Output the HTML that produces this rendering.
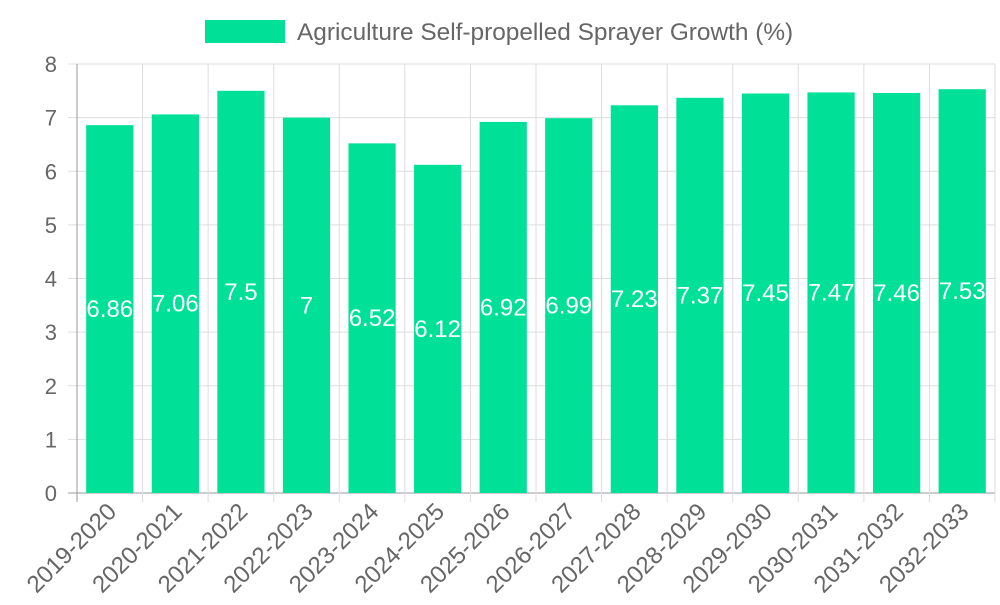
<!DOCTYPE html>
<html><head><meta charset="utf-8"><style>
body{margin:0;background:#fff;}
text{font-family:"Liberation Sans",sans-serif;}
</style></head><body>
<svg id="chart" width="1000" height="600" xmlns="http://www.w3.org/2000/svg">
<g>
<rect x="205" y="20" width="80" height="23" fill="#00e096"/>
<text x="297" y="40" font-size="24.4" fill="#666">Agriculture Self-propelled Sprayer Growth (%)</text>
</g>
<g id="grid"></g>
<g id="bars"></g>
<g id="labels"></g>
</svg>
<script>
const categories=["2019-2020","2020-2021","2021-2022","2022-2023","2023-2024","2024-2025","2025-2026","2026-2027","2027-2028","2028-2029","2029-2030","2030-2031","2031-2032","2032-2033"];
const values=[6.86,7.06,7.5,7,6.52,6.12,6.92,6.99,7.23,7.37,7.45,7.47,7.46,7.53];
const valueLabels=["6.86","7.06","7.5","7","6.52","6.12","6.92","6.99","7.23","7.37","7.45","7.47","7.46","7.53"];
const yTicks=[0,1,2,3,4,5,6,7,8];
const L=77,R=995,T=64,B=493,yMax=8;
const slot=(R-L)/categories.length;
const y=v=>B-(v/yMax)*(B-T);
const x=i=>L+i*slot;
const NS="http://www.w3.org/2000/svg";
function mk(tag,attrs,parent){const e=document.createElementNS(NS,tag);for(const k in attrs)e.setAttribute(k,attrs[k]);parent.appendChild(e);return e;}
const grid=document.getElementById('grid'),bars=document.getElementById('bars'),labels=document.getElementById('labels');
yTicks.forEach(t=>{
 const ln=mk('line',{x1:L-9,x2:R,y1:y(t),y2:y(t),stroke:t===0?'#999':'#ddd','stroke-width':1},grid);
 
 
 const tx=mk('text',{x:L-20,y:y(t)+8,'font-size':22,fill:'#666','text-anchor':'end'},grid);
 tx.textContent=t;
 
 
});
for(let i=0;i<=categories.length;i++){
 const ln=mk('line',{x1:x(i),x2:x(i),y1:T,y2:B+9,stroke:i===0?'#999':'#ddd','stroke-width':1},grid);
 
 
}
const bw=slot*0.72;
categories.forEach((c,i)=>{
 const cx=x(i)+slot/2;
 const r=mk('rect',{x:cx-bw/2,y:y(values[i]),width:bw,height:B-y(values[i]),fill:'#00e096'},bars);
 
 
 const vt=mk('text',{x:cx,y:(y(values[i])+B)/2+8,'font-size':24,fill:'#fff','text-anchor':'middle'},bars);
 vt.textContent=valueLabels[i];
 
 
 const ax=cx+8, ay=B+20;
 const lt=mk('text',{x:ax,y:ay,'font-size':24,fill:'#666','text-anchor':'end',transform:`rotate(-45 ${ax} ${ay})`},labels);
 lt.textContent=c;
 
 
});
</script>
</body></html>
